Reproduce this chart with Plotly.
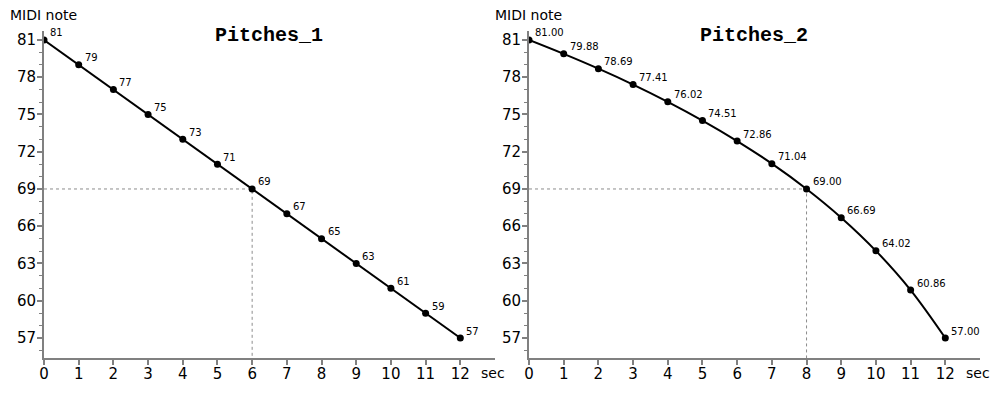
import plotly.graph_objects as go
from plotly.subplots import make_subplots

# data
seconds = list(range(13))
pitches_1 = [81, 79, 77, 75, 73, 71, 69, 67, 65, 63, 61, 59, 57]
pitches_2 = [81.00, 79.88, 78.69, 77.41, 76.02, 74.51, 72.86, 71.04, 69.00, 66.69, 64.02, 60.86, 57.00]
labels_1 = [str(p) for p in pitches_1]
labels_2 = ["%.2f" % p for p in pitches_2]
y_ticks = [57, 60, 63, 66, 69, 72, 75, 78, 81]
titles = ["Pitches_1", "Pitches_2"]
guide_x = [6, 8]
guide_y = 69

fig = make_subplots(rows=1, cols=2)

axis_grey = "#808080"
series = [(pitches_1, labels_1, "linear"), (pitches_2, labels_2, "spline")]

for i, (ys, labs, shape) in enumerate(series):
    col = i + 1
    # dashed guides
    fig.add_trace(go.Scatter(x=[0, guide_x[i], guide_x[i]], y=[guide_y, guide_y, 55.39],
                             mode="lines", line=dict(color="#8c8c8c", width=1, dash="3px,3px"),
                             hoverinfo="skip", showlegend=False), row=1, col=col)
    fig.add_trace(go.Scatter(x=seconds, y=ys, mode="lines+markers",
                             line=dict(color="black", width=2, shape=shape),
                             marker=dict(color="black", size=7),
                             showlegend=False), row=1, col=col)
    xr = "x" if col == 1 else "x2"
    yr = "y" if col == 1 else "y2"
    for s, v, t in zip(seconds, ys, labs):
        fig.add_annotation(x=s, y=v, xref=xr, yref=yr, text=t, showarrow=False,
                           xanchor="left", yanchor="middle", xshift=4, yshift=7,
                           font=dict(family="DejaVu Sans", size=10, color="black"))

doms = [[0.044, 0.495], [0.529, 0.980]]
for i in range(2):
    col = i + 1
    fig.update_xaxes(domain=doms[i], range=[0, 13.0], tickvals=seconds,
                     showline=True, linecolor=axis_grey, linewidth=2, automargin=False,
                     ticks="outside", ticklen=5, tickcolor=axis_grey, tickwidth=1.5,
                     ticklabelstandoff=-4,
                     showgrid=False, zeroline=False,
                     tickfont=dict(family="DejaVu Sans", size=15, color="black"),
                     row=1, col=col)
    fig.update_yaxes(domain=[0.105, 0.9225], range=[55.39, 81.72], tickvals=y_ticks,
                     showline=True, linecolor=axis_grey, linewidth=2, automargin=False,
                     ticks="outside", ticklen=5, tickcolor=axis_grey, tickwidth=1.5,
                     ticklabelstandoff=-2,
                     minor=dict(dtick=1, ticks="outside", ticklen=3, tickcolor=axis_grey, tickwidth=1),
                     showgrid=False, zeroline=False,
                     tickfont=dict(family="DejaVu Sans", size=15, color="black"),
                     row=1, col=col)

# titles and axis labels
title_x = [269, 754]
ylab_x = [8, 493]
sec_x = [479, 964]
for i in range(2):
    fig.add_annotation(text="<b>" + titles[i] + "</b>", xref="paper", yref="paper",
                       x=title_x[i] / 1000, y=1 - 35 / 400, xanchor="center", yanchor="middle",
                       showarrow=False, font=dict(family="Liberation Mono", size=20, color="black"))
    fig.add_annotation(text="MIDI note", xref="paper", yref="paper",
                       x=ylab_x[i] / 1000, y=1 - 15 / 400, xanchor="left", yanchor="middle",
                       showarrow=False, font=dict(family="DejaVu Sans", size=14, color="black"))
    fig.add_annotation(text="sec", xref="paper", yref="paper",
                       x=sec_x[i] / 1000, y=1 - 373 / 400, xanchor="left", yanchor="middle",
                       showarrow=False, font=dict(family="DejaVu Sans", size=14, color="black"))

fig.update_layout(width=1000, height=400, margin=dict(l=0, r=0, t=0, b=0),
                  plot_bgcolor="white", paper_bgcolor="white")

fig.write_html("out.html", config={"displayModeBar": False},
               post_script="document.body.style.margin='0';")
